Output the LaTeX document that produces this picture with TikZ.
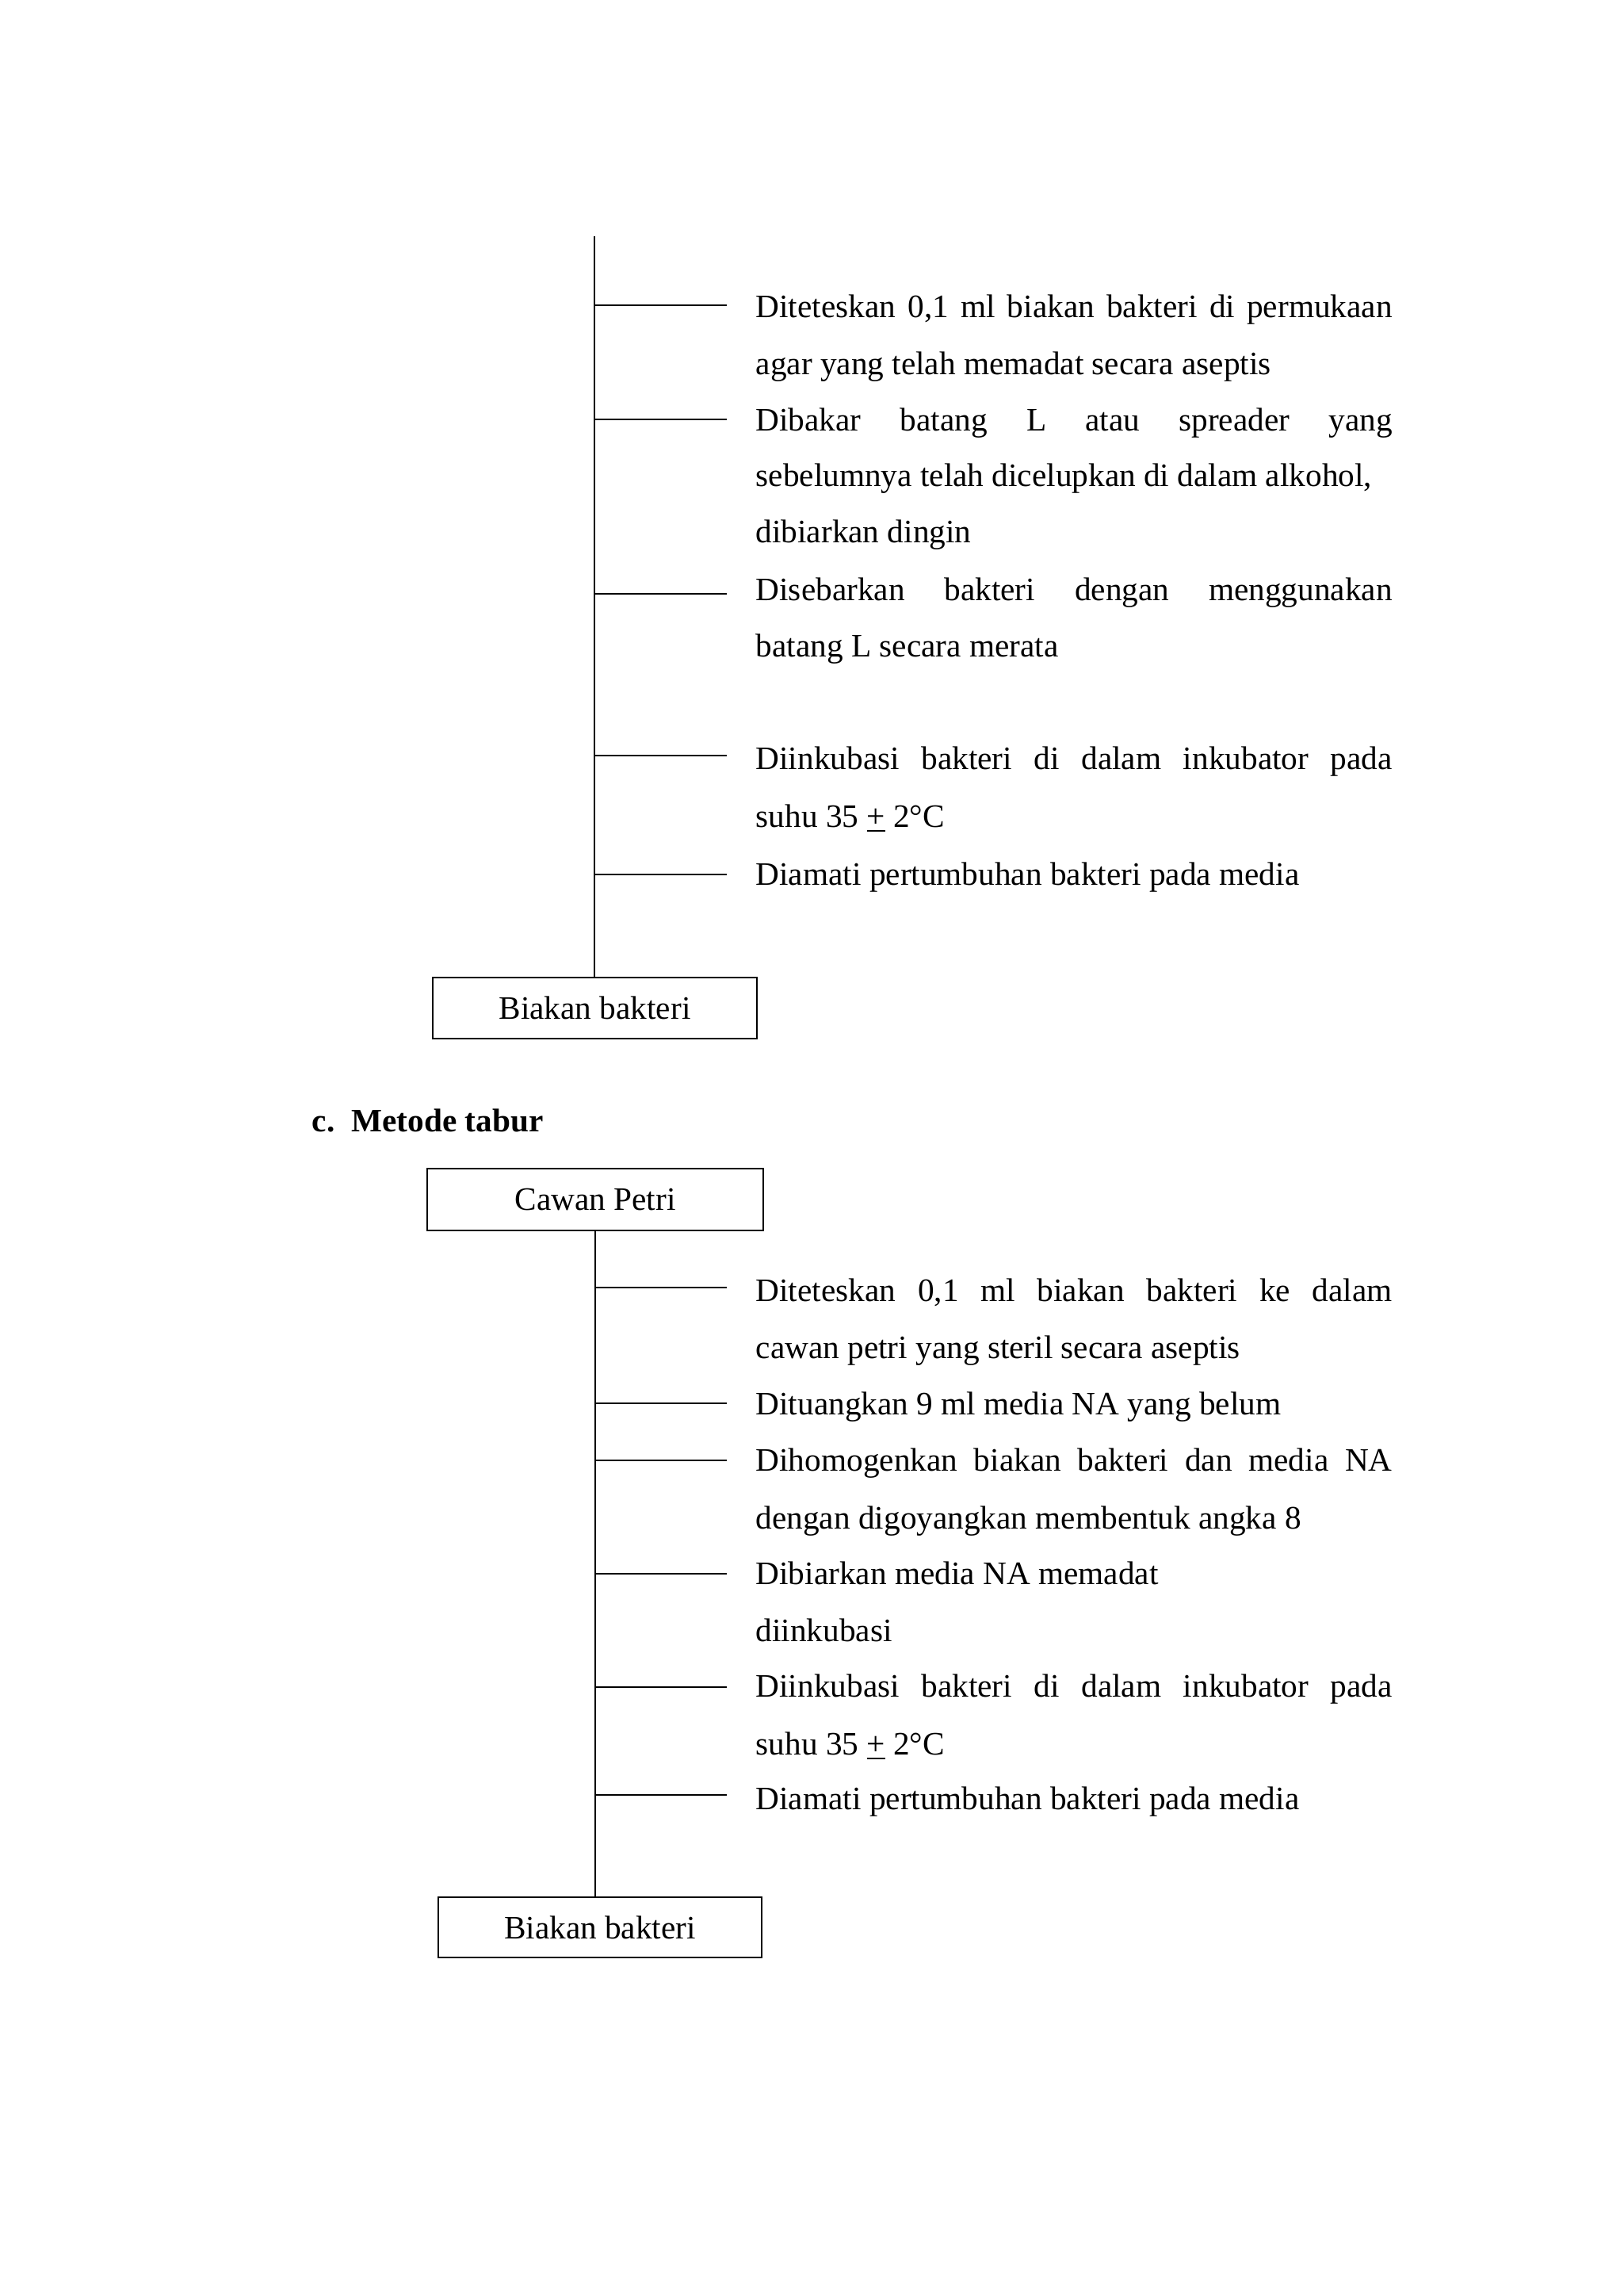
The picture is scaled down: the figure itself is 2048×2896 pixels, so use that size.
\documentclass[tikz,border=0pt]{standalone}
\usepackage{fontspec}
\setmainfont{Liberation Serif}
\newlength\jw
\setlength\jw{233.4pt}
\newcommand\jline[1]{\makebox[\jw][s]{#1}}
\begin{document}
\begin{tikzpicture}[x=0.29066pt,y=-0.29066pt,
  txt/.style={anchor=base west,inner sep=0pt,font=\fontsize{12pt}{14pt}\selectfont},
  head/.style={anchor=base west,inner sep=0pt,font=\fontsize{12pt}{14pt}\selectfont\bfseries},
  branch/.style={line width=0.75pt},
  spine/.style={line width=0.6pt},
  box/.style={draw,line width=0.8pt,inner sep=0pt,font=\fontsize{12pt}{14pt}\selectfont}]
\useasboundingbox (0,0) rectangle (2048,2896);

% ---------- upper section ----------
\coordinate (top1) at (750,298);
\node[box,minimum width=118.9pt,minimum height=22.4pt] (box1) at (750.5,1271.5) {Biakan bakteri};
\draw[spine] (top1) -- (top1 |- box1.north);

\foreach \n/\yy in {a/385,b/529,c/749,d/953,e/1103}{
  \coordinate (u\n s) at (750,\yy);
  \coordinate (u\n e) at (917,\yy);
  \draw[branch] (u\n s) -- (u\n e);
}

\node[txt] (t1) at (953,400) {\jline{Diteteskan 0,1 ml biakan bakteri di permukaan}};
\node[txt] (t2) at (953,472) {agar yang telah memadat secara aseptis};
\node[txt] (t3) at (953,543) {\jline{Dibakar batang L atau spreader yang}};
\node[txt] (t4) at (953,613) {sebelumnya telah dicelupkan di dalam alkohol,};
\node[txt] (t5) at (953,684) {dibiarkan dingin};
\node[txt] (t6) at (953,757) {\jline{Disebarkan bakteri dengan menggunakan}};
\node[txt] (t7) at (953,828) {batang L secara merata};
\node[txt] (t8) at (953,970) {\jline{Diinkubasi bakteri di dalam inkubator pada}};
\node[txt] (t9) at (953,1043) {suhu 35 \underline{+} 2°C};
\node[txt] (t10) at (953,1116) {Diamati pertumbuhan bakteri pada media};

% ---------- heading ----------
\node[head] (hc) at (393,1427) {\makebox[14.5pt][l]{c.}Metode tabur};

% ---------- lower section ----------
\node[box,minimum width=123.2pt,minimum height=22.7pt] (box2) at (751,1513) {Cawan Petri};
\node[box,minimum width=118.6pt,minimum height=22.1pt] (box3) at (757,2431) {Biakan bakteri};
\draw[spine] (box2.south) -- (box2.south |- box3.north);

\foreach \n/\yy in {a/1624,b/1770,c/1842,d/1985,e/2128,f/2264}{
  \coordinate (l\n s) at (750,\yy);
  \coordinate (l\n e) at (917,\yy);
  \draw[branch] (l\n s) -- (l\n e);
}

\node[txt] (s1) at (953,1641) {\jline{Diteteskan 0,1 ml biakan bakteri ke dalam}};
\node[txt] (s2) at (953,1713) {cawan petri yang steril secara aseptis};
\node[txt] (s3) at (953,1784) {Dituangkan 9 ml media NA yang belum};
\node[txt] (s4) at (953,1855) {\jline{Dihomogenkan biakan bakteri dan media NA}};
\node[txt] (s5) at (953,1928) {dengan digoyangkan membentuk angka 8};
\node[txt] (s6) at (953,1998) {Dibiarkan media NA memadat};
\node[txt] (s7) at (953,2070) {diinkubasi};
\node[txt] (s8) at (953,2140) {\jline{Diinkubasi bakteri di dalam inkubator pada}};
\node[txt] (s9) at (953,2213) {suhu 35 \underline{+} 2°C};
\node[txt] (s10) at (953,2282) {Diamati pertumbuhan bakteri pada media};
\end{tikzpicture}
\end{document}
